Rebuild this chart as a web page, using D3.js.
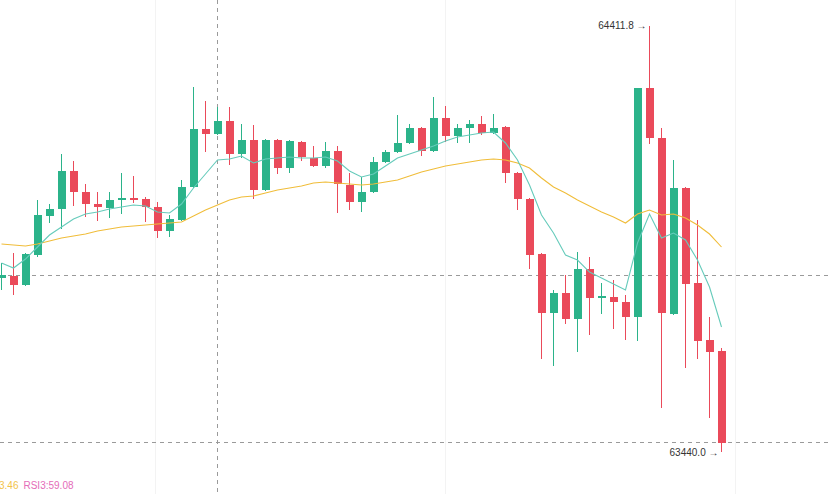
<!DOCTYPE html>
<html>
<head>
<meta charset="utf-8">
<script src="https://cdn.jsdelivr.net/npm/d3@7"></script>
<style>
  html, body { margin: 0; padding: 0; background: #fff; overflow: hidden; }
  svg { display: block; }
</style>
</head>
<body>
<div id="chart"></div>
<script>
// candle data, one entry per bar
var opens = [63837.6,63841.0,63820.5,63888.9,63977.7,63993.7,64080.3,64032.4,64005.1,63996.0,
  64014.2,64018.7,64016.5,63998.2,63943.5,63968.6,64043.8,64176.0,64164.6,64194.2,
  64119.0,64150.9,64037.0,64150.9,64087.1,64146.3,64109.9,64091.7,64125.8,64048.4,
  64009.6,64032.4,64100.8,64123.6,64144.1,64178.2,64125.8,64201.0,64160.0,64178.2,
  64187.4,64166.9,64180.5,64075.7,64016.5,63891.1,63756.7,63802.3,63743.0,63857.0,
  63790.9,63793.2,63781.8,63747.6,64269.4,64155.5,63754.4,64041.5,63825.1,63695.2,63670.1];
var highs = [63870.6,63893.4,63893.4,64014.2,64005.1,64119.0,64103.0,64050.6,64032.4,64032.4,
  64075.7,64068.9,64021.0,64009.6,63980.0,64059.8,64271.7,64239.8,64226.1,64226.1,
  64187.4,64185.1,64153.2,64153.2,64150.9,64148.6,64137.2,64146.3,64137.2,64075.7,
  64066.6,64112.2,64128.1,64207.9,64187.4,64180.5,64248.9,64228.4,64187.4,64196.5,
  64205.6,64210.1,64182.8,64078.0,64018.7,63893.4,63809.1,63843.3,63895.7,63884.3,
  63825.1,63831.9,63797.7,64269.4,64411.8,64178.2,64105.3,64043.8,63968.6,63747.6,63677.0];
var lows = [63809.1,63797.7,63818.2,63884.3,63961.8,63948.1,64000.5,63975.4,63966.3,63973.2,
  63982.3,64007.3,63964.1,63927.6,63929.9,63966.3,64041.5,64123.6,64162.3,64093.9,
  64109.9,64016.5,64034.7,64073.4,64075.7,64103.0,64089.4,64087.1,63984.6,63991.4,
  63986.8,64030.1,64098.5,64121.3,64141.8,64114.4,64123.6,64146.3,64144.1,64144.1,
  64162.3,64164.6,64052.9,63991.4,63857.0,63651.9,63635.9,63731.6,63667.8,63706.6,
  63754.4,63720.2,63695.2,63692.9,64141.8,63540.2,63752.1,63631.4,63651.9,63517.4,63440.0];
var closes = [63842.2,63820.5,63891.1,63980.0,63993.7,64080.3,64032.4,64005.1,63998.2,64014.2,
  64018.7,64014.2,63998.2,63943.5,63970.9,64043.8,64176.0,64164.6,64194.2,64119.0,
  64150.9,64037.0,64150.9,64087.1,64148.6,64112.2,64091.7,64125.8,64050.6,64009.6,
  64032.4,64100.8,64123.6,64144.1,64178.2,64125.8,64201.0,64160.0,64178.2,64187.4,
  64166.9,64178.2,64075.7,64016.5,63888.9,63756.7,63802.3,63743.0,63857.0,63790.9,
  63795.4,63781.8,63747.6,64269.4,64155.5,63756.7,64041.5,63822.8,63692.9,63667.8,63460.5];

// moving averages as drawn
var maFast = [63870.6,63859.2,63879.7,63907.1,63934.4,63952.7,63970.9,63982.3,63986.8,63993.7,
  63998.2,64002.8,64000.5,63986.8,63984.6,64005.1,64041.5,64073.4,64105.3,64107.6,
  64114.4,64098.5,64107.6,64109.9,64112.2,64109.9,64109.9,64112.2,64103.0,64080.3,
  64066.6,64073.4,64091.7,64109.9,64119.0,64128.1,64137.2,64148.6,64157.7,64162.3,
  64166.9,64169.1,64144.1,64105.3,64048.4,63980.0,63939.0,63888.9,63877.5,63850.1,
  63836.5,63822.8,63809.1,63916.2,63982.3,63927.6,63939.0,63923.0,63877.5,63815.9,63724.8];
var maSlow = [63913.9,63911.6,63909.4,63913.9,63920.8,63927.6,63932.2,63936.7,63943.5,63948.1,
  63952.7,63954.9,63957.2,63959.5,63961.8,63964.1,63977.7,63991.4,64002.8,64014.2,
  64021.0,64023.3,64030.1,64037.0,64041.5,64046.1,64052.9,64055.2,64052.9,64050.6,
  64048.4,64050.6,64055.2,64059.8,64068.9,64078.0,64084.8,64091.7,64096.2,64100.8,
  64105.3,64107.6,64105.3,64098.5,64087.1,64064.3,64043.8,64030.1,64014.2,64000.5,
  63986.8,63975.4,63961.8,63982.3,63991.4,63980.0,63982.3,63973.2,63957.2,63936.7,63907.1];

var maxLabel = "64411.8";
var minLabel = "63440.0";
var crossIndex = 18;        // crosshair bar
var crossPrice = 63843.3;   // crosshair price
var rsiTexts = [{t: "3.46", c: "#f2c34a"}, {t: "RSI3:59.08", c: "#e46cb8"}];

var W = 828, H = 494;
var up = "#2bb38a", down = "#ea4a5a";

var svg = d3.select("#chart").append("svg").attr("width", W).attr("height", H);

var x = d3.scaleLinear().domain([0, opens.length - 1]).range([1.5, 721.5]);
var y = d3.scaleLinear().domain([63440.0, 64411.8]).range([452, 25.5]);

var bars = opens.map(function(o, i) {
  return {i: i, o: o, h: highs[i], l: lows[i], c: closes[i]};
});

// faint grid
svg.append("g").selectAll("line").data([155, 445, 735]).join("line")
  .attr("x1", d => d + 0.5).attr("x2", d => d + 0.5)
  .attr("y1", 0).attr("y2", H)
  .attr("stroke", "#f3f3f3").attr("stroke-width", 1);

// crosshair + last price lines
var dashes = svg.append("g").attr("stroke", "#9a9a9a").attr("stroke-width", 1)
  .attr("stroke-dasharray", "4,4").attr("shape-rendering", "crispEdges");
dashes.append("line")
  .attr("x1", x(crossIndex)).attr("x2", x(crossIndex)).attr("y1", 0).attr("y2", H);
dashes.append("line")
  .attr("x1", 0).attr("x2", W).attr("y1", Math.round(y(crossPrice)) + 0.5).attr("y2", Math.round(y(crossPrice)) + 0.5);
dashes.append("line")
  .attr("x1", 0).attr("x2", W)
  .attr("y1", Math.round(y(closes[closes.length - 1])) - 0.5)
  .attr("y2", Math.round(y(closes[closes.length - 1])) - 0.5);

// candles
var g = svg.append("g").attr("shape-rendering", "crispEdges");
g.selectAll("line.wick").data(bars).join("line")
  .attr("class", "wick")
  .attr("x1", d => x(d.i)).attr("x2", d => x(d.i))
  .attr("y1", d => y(d.h)).attr("y2", d => y(d.l))
  .attr("stroke", d => d.c >= d.o ? up : down);
g.selectAll("rect").data(bars).join("rect")
  .attr("x", d => x(d.i) - 4)
  .attr("width", 8)
  .attr("y", d => y(Math.max(d.o, d.c)))
  .attr("height", d => Math.max(1, Math.abs(y(d.o) - y(d.c))))
  .attr("fill", d => d.c >= d.o ? up : down);

// moving averages
var line = d3.line().x((d, i) => x(i)).y(d => y(d));
svg.append("path").datum(maSlow).attr("d", line)
  .attr("fill", "none").attr("stroke", "#f0bd3a").attr("stroke-width", 1.1);
svg.append("path").datum(maFast).attr("d", line)
  .attr("fill", "none").attr("stroke", "#66cbbb").attr("stroke-width", 1.1);

// max / min markers
var maxI = highs.indexOf(d3.max(highs));
var minI = lows.indexOf(d3.min(lows));
svg.append("text")
  .attr("x", x(maxI) - 3).attr("y", y(highs[maxI]) + 3.5)
  .attr("text-anchor", "end")
  .attr("font-family", "Liberation Sans, Arial, sans-serif").attr("font-size", 10)
  .attr("fill", "#333").text(maxLabel + " \u2192");
svg.append("text")
  .attr("x", x(minI) - 3).attr("y", y(lows[minI]) + 3.5)
  .attr("text-anchor", "end")
  .attr("font-family", "Liberation Sans, Arial, sans-serif").attr("font-size", 10)
  .attr("fill", "#333").text(minLabel + " \u2192");

// indicator legend at the bottom (cut off on the left)
var leg = svg.append("text").attr("x", -1).attr("y", 489)
  .attr("font-family", "Liberation Sans, Arial, sans-serif").attr("font-size", 10);
rsiTexts.forEach(function(r, k) {
  leg.append("tspan").attr("dx", k ? 5 : 0).attr("fill", r.c).text(r.t);
});
</script>
</body>
</html>
